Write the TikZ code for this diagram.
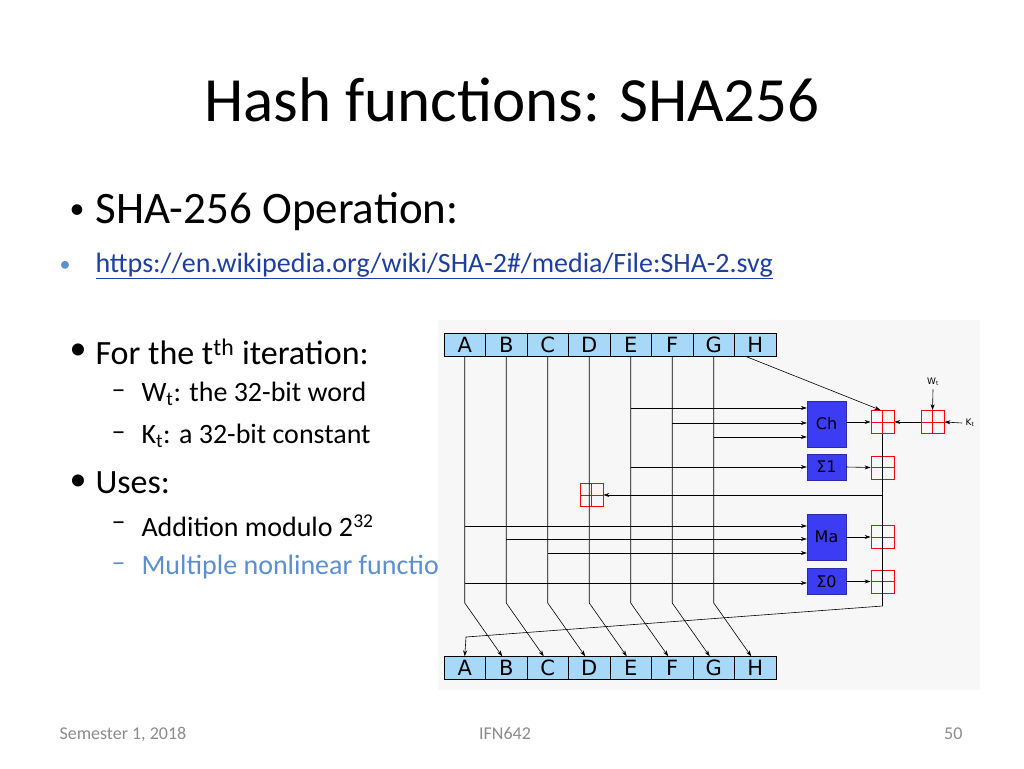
\documentclass[tikz,border=0pt]{standalone}
\usepackage{fontspec}
\setmainfont{Carlito}
\newfontfamily\dvfont{DejaVu Sans}
\usetikzlibrary{arrows.meta, positioning}
\definecolor{cellblue}{HTML}{A8D8F8}
\definecolor{boxblue}{HTML}{3C3CF5}
\definecolor{linkblue}{HTML}{1F3FA0}
\definecolor{lightlink}{HTML}{5B8FD0}
\definecolor{footgray}{HTML}{8C8C8C}
\tikzset{
  cell/.style={draw, fill=cellblue, minimum width=41.5pt, minimum height=23pt, inner sep=0pt, font=\dvfont\fontsize{21}{21}\selectfont},
  fbox/.style={fill=boxblue, draw=boxblue!70!black, minimum width=39pt, inner sep=0pt, font=\dvfont\fontsize{16}{16}\selectfont},
  adder/.style={draw=red, thick, minimum size=23pt, inner sep=0pt,
    path picture={\draw[red, thick] (path picture bounding box.north) -- (path picture bounding box.south)
      (path picture bounding box.west) -- (path picture bounding box.east);}},
  wire/.style={semithick},
  arr/.style={semithick, -{Stealth[length=6pt, width=4pt]}},
  bullet/.style={anchor=west, font=\fontsize{34}{34}\selectfont},
  subitem/.style={anchor=west, font=\fontsize{28}{28}\selectfont},
  foot/.style={text=footgray, font=\fontsize{18}{18}\selectfont},
}
\begin{document}
\begin{tikzpicture}[x=1pt, y=-1pt]
    \useasboundingbox[fill=white] (0,0) rectangle (1024,768);

    % slide text
    \node (title) at (512,100) {\fontsize{63}{63}\selectfont Hash functions: SHA256};
    \node[anchor=west, font=\fontsize{30}{30}\selectfont] (dot1) at (66,212) {•};
    \node[anchor=west, font=\fontsize{45}{45}\selectfont] (op) at (92,212) {SHA-256 Operation:};
    \node[anchor=west, font=\fontsize{22}{22}\selectfont, text=lightlink] (dot2) at (56,266) {•};
    \node[anchor=west, font=\fontsize{28}{28}\selectfont, text=linkblue] (url) at (92,266) {\underline{https://en.wikipedia.org/wiki/SHA-2\#/media/File:SHA-2.svg}};
    \node[bullet] (dot3) at (66,352) {•};
    \node[bullet] (iter) at (92,352) {For the t\textsuperscript{th} iteration:};
    \node[subitem] (dash1) at (108,394) {–};
    \node[subitem] (wt) at (138,394) {W\textsubscript{t}: the 32-bit word};
    \node[subitem] (dash2) at (108,436) {–};
    \node[subitem] (kt) at (138,436) {K\textsubscript{t}: a 32-bit constant};
    \node[bullet] (dot4) at (66,483) {•};
    \node[bullet] (uses) at (92,483) {Uses:};
    \node[subitem] (dash3) at (108,526) {–};
    \node[subitem] (addmod) at (138,526) {Addition modulo 2\textsuperscript{32}};
    \node[subitem, text=lightlink] (dash4) at (108,567) {–};
    \node[subitem, text=lightlink] (nonlin) at (138,567) {Multiple nonlinear functions};

    % footer
    \node[foot, anchor=base west] (sem) at (56,739) {Semester 1, 2018};
    \node[foot, anchor=base] (unit) at (505,739) {IFN642};
    \node[foot, anchor=base east] (page) at (966,739) {50};

    % diagram background
    \fill[gray!6] (438,320) rectangle (980,690);

    % registers
    \foreach \l [count=\i] in {A,B,C,D,E,F,G,H} {
        \node[cell] (t\i) at (444+41.5*\i-20.75, 344.5) {\l};
        \node[cell] (b\i) at (444+41.5*\i-20.75, 668) {\l};
    }

    % function boxes
    \node[fbox, minimum height=46pt] (ch) at (826.5,424) {Ch};
    \node[fbox, minimum height=26pt] (s1) at (826.5,467) {Σ1};
    \node[fbox, minimum height=46pt] (ma) at (826.5,537) {Ma};
    \node[fbox, minimum height=26pt] (s0) at (826.5,581.5) {Σ0};

    % adders
    \node[adder] (addch) at (882.5,422) {};
    \node[adder] (adds1) at (882.5,467.5) {};
    \node[adder] (addma) at (882.5,537) {};
    \node[adder] (adds0) at (882.5,581.5) {};
    \node[adder] (addwk) at (932.5,422) {};
    \node[adder] (addd) at (591.5,495) {};
    \node[font=\dvfont\fontsize{9}{9}\selectfont] (wlabel) at (933,382) {W\textsubscript{t}};
    \node[font=\dvfont\fontsize{9}{9}\selectfont] (klabel) at (970,423) {K\textsubscript{t}};

    % shifting wires
    \foreach \i [evaluate=\i as \j using int(\i+1)] in {1,...,7} {
        \draw[arr] (t\i.south) -- (t\i.south |- 0,603) -- ([xshift=-4pt]b\j.north);
    }

    % inputs to the functions
    \draw[arr] (t5.south |- 0,408) -- (ch.west |- 0,408);
    \draw[arr] (t6.south |- 0,423) -- (ch.west |- 0,423);
    \draw[arr] (t7.south |- 0,437) -- (ch.west |- 0,437);
    \draw[arr] (t5.south |- 0,467) -- (s1.west);
    \draw[arr] (t1.south |- 0,526) -- (ma.west |- 0,526);
    \draw[arr] (t2.south |- 0,539) -- (ma.west |- 0,539);
    \draw[arr] (t3.south |- 0,553) -- (ma.west |- 0,553);
    \draw[arr] (t1.south |- 0,583) -- (s0.west |- 0,583);

    % into the adders
    \draw[arr] (ch.east |- addch.west) -- (addch.west);
    \draw[arr] (s1.east) -- (adds1.west);
    \draw[arr] (ma.east) -- (addma.west);
    \draw[arr] (s0.east) -- (adds0.west);
    \draw[arr] (addwk.west) -- (addch.east);
    \draw[arr] (wlabel.south) -- (addwk.north);
    \draw[arr] (klabel.west) -- (addwk.east);
    \draw[arr] ([xshift=-10pt]t8.south) -- ([xshift=-2pt]addch.north);

    % result chain
    \coordinate (tailr) at (882.5,606);
    \coordinate (taill) at (466,637);
    \draw[semithick] (addch.south) -- (tailr);
    \draw[arr] (addch.south |- addd.east) -- (addd.east);
    \draw[arr] (tailr) -- (taill) -- (b1.north);
\end{tikzpicture}
\end{document}
